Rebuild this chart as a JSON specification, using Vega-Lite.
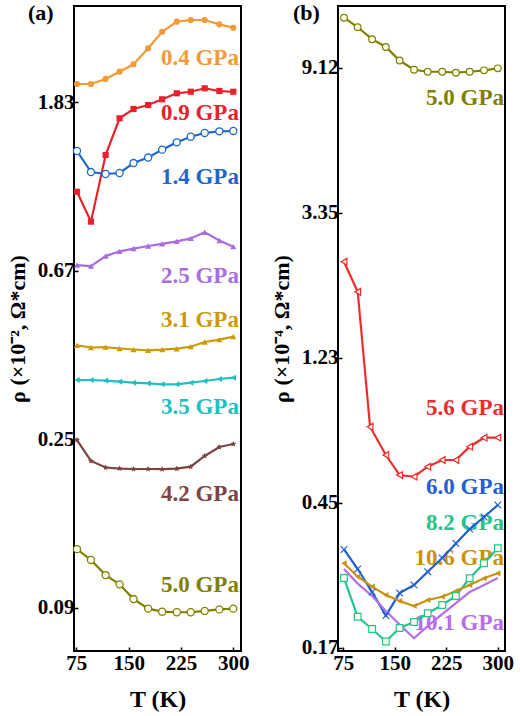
{
  "$schema": "https://vega.github.io/schema/vega-lite/v6.json",
  "background": "white",
  "padding": {"left": 5, "top": 1, "right": 0, "bottom": 0},
  "bounds": "flush",
  "spacing": 97,
  "resolve": {"scale": {"x": "independent", "y": "independent", "color": "independent", "shape": "independent"}},
  "config": {
    "font": "Liberation Serif",
    "view": {"stroke": "black", "strokeWidth": 2},
    "axis": {
      "grid": false,
      "domain": false,
      "labelFont": "Liberation Serif",
      "labelFontWeight": "bold",
      "labelFontSize": 21,
      "labelColor": "black",
      "titleFont": "Liberation Serif",
      "titleFontWeight": "bold",
      "titleColor": "black",
      "tickColor": "black",
      "tickWidth": 1.5,
      "tickSize": -4
    },
    "title": {"font": "Liberation Serif", "fontWeight": "bold", "fontSize": 22, "color": "black"}
  },
  "datasets": {
    "a": [
      {"series": "0.4 GPa", "T": 76, "rho": 2.030}, {"series": "0.4 GPa", "T": 96, "rho": 2.030}, {"series": "0.4 GPa", "T": 117, "rho": 2.092}, {"series": "0.4 GPa", "T": 137, "rho": 2.184}, {"series": "0.4 GPa", "T": 157, "rho": 2.282}, {"series": "0.4 GPa", "T": 178, "rho": 2.509}, {"series": "0.4 GPa", "T": 198, "rho": 2.768}, {"series": "0.4 GPa", "T": 219, "rho": 2.939}, {"series": "0.4 GPa", "T": 239, "rho": 2.968}, {"series": "0.4 GPa", "T": 259, "rho": 2.968}, {"series": "0.4 GPa", "T": 280, "rho": 2.892}, {"series": "0.4 GPa", "T": 300, "rho": 2.835},
      {"series": "0.9 GPa", "T": 76, "rho": 1.071}, {"series": "0.9 GPa", "T": 96, "rho": 0.897}, {"series": "0.9 GPa", "T": 117, "rho": 1.332}, {"series": "0.9 GPa", "T": 137, "rho": 1.656}, {"series": "0.9 GPa", "T": 157, "rho": 1.750}, {"series": "0.9 GPa", "T": 178, "rho": 1.792}, {"series": "0.9 GPa", "T": 198, "rho": 1.854}, {"series": "0.9 GPa", "T": 219, "rho": 1.921}, {"series": "0.9 GPa", "T": 239, "rho": 1.939}, {"series": "0.9 GPa", "T": 259, "rho": 1.979}, {"series": "0.9 GPa", "T": 280, "rho": 1.947}, {"series": "0.9 GPa", "T": 300, "rho": 1.939},
      {"series": "1.4 GPa", "T": 76, "rho": 1.364}, {"series": "1.4 GPa", "T": 96, "rho": 1.204}, {"series": "1.4 GPa", "T": 117, "rho": 1.190}, {"series": "1.4 GPa", "T": 137, "rho": 1.197}, {"series": "1.4 GPa", "T": 157, "rho": 1.270}, {"series": "1.4 GPa", "T": 178, "rho": 1.312}, {"series": "1.4 GPa", "T": 198, "rho": 1.375}, {"series": "1.4 GPa", "T": 219, "rho": 1.436}, {"series": "1.4 GPa", "T": 239, "rho": 1.485}, {"series": "1.4 GPa", "T": 259, "rho": 1.518}, {"series": "1.4 GPa", "T": 280, "rho": 1.533}, {"series": "1.4 GPa", "T": 300, "rho": 1.536},
      {"series": "2.5 GPa", "T": 76, "rho": 0.693}, {"series": "2.5 GPa", "T": 96, "rho": 0.689}, {"series": "2.5 GPa", "T": 117, "rho": 0.731}, {"series": "2.5 GPa", "T": 137, "rho": 0.752}, {"series": "2.5 GPa", "T": 157, "rho": 0.764}, {"series": "2.5 GPa", "T": 178, "rho": 0.776}, {"series": "2.5 GPa", "T": 198, "rho": 0.786}, {"series": "2.5 GPa", "T": 219, "rho": 0.798}, {"series": "2.5 GPa", "T": 239, "rho": 0.812}, {"series": "2.5 GPa", "T": 259, "rho": 0.842}, {"series": "2.5 GPa", "T": 280, "rho": 0.802}, {"series": "2.5 GPa", "T": 300, "rho": 0.773},
      {"series": "3.1 GPa", "T": 76, "rho": 0.4305}, {"series": "3.1 GPa", "T": 96, "rho": 0.4249}, {"series": "3.1 GPa", "T": 117, "rho": 0.4257}, {"series": "3.1 GPa", "T": 137, "rho": 0.4224}, {"series": "3.1 GPa", "T": 157, "rho": 0.4199}, {"series": "3.1 GPa", "T": 178, "rho": 0.4180}, {"series": "3.1 GPa", "T": 198, "rho": 0.4195}, {"series": "3.1 GPa", "T": 219, "rho": 0.4219}, {"series": "3.1 GPa", "T": 239, "rho": 0.4270}, {"series": "3.1 GPa", "T": 259, "rho": 0.4391}, {"series": "3.1 GPa", "T": 280, "rho": 0.4451}, {"series": "3.1 GPa", "T": 300, "rho": 0.4531},
      {"series": "3.5 GPa", "T": 76, "rho": 0.3504}, {"series": "3.5 GPa", "T": 96, "rho": 0.3504}, {"series": "3.5 GPa", "T": 117, "rho": 0.3490}, {"series": "3.5 GPa", "T": 137, "rho": 0.3469}, {"series": "3.5 GPa", "T": 157, "rho": 0.3448}, {"series": "3.5 GPa", "T": 178, "rho": 0.3436}, {"series": "3.5 GPa", "T": 198, "rho": 0.3416}, {"series": "3.5 GPa", "T": 219, "rho": 0.3416}, {"series": "3.5 GPa", "T": 239, "rho": 0.3448}, {"series": "3.5 GPa", "T": 259, "rho": 0.3483}, {"series": "3.5 GPa", "T": 280, "rho": 0.3525}, {"series": "3.5 GPa", "T": 300, "rho": 0.3552},
      {"series": "4.2 GPa", "T": 76, "rho": 0.2454}, {"series": "4.2 GPa", "T": 96, "rho": 0.2167}, {"series": "4.2 GPa", "T": 117, "rho": 0.2085}, {"series": "4.2 GPa", "T": 137, "rho": 0.2072}, {"series": "4.2 GPa", "T": 157, "rho": 0.2066}, {"series": "4.2 GPa", "T": 178, "rho": 0.2066}, {"series": "4.2 GPa", "T": 198, "rho": 0.2064}, {"series": "4.2 GPa", "T": 219, "rho": 0.2070}, {"series": "4.2 GPa", "T": 239, "rho": 0.2095}, {"series": "4.2 GPa", "T": 259, "rho": 0.2232}, {"series": "4.2 GPa", "T": 280, "rho": 0.2354}, {"series": "4.2 GPa", "T": 300, "rho": 0.2397},
      {"series": "5.0 GPa", "T": 76, "rho": 0.1284}, {"series": "5.0 GPa", "T": 96, "rho": 0.1204}, {"series": "5.0 GPa", "T": 117, "rho": 0.1101}, {"series": "5.0 GPa", "T": 137, "rho": 0.1042}, {"series": "5.0 GPa", "T": 157, "rho": 0.0955}, {"series": "5.0 GPa", "T": 178, "rho": 0.0902}, {"series": "5.0 GPa", "T": 198, "rho": 0.0886}, {"series": "5.0 GPa", "T": 219, "rho": 0.0883}, {"series": "5.0 GPa", "T": 239, "rho": 0.0883}, {"series": "5.0 GPa", "T": 259, "rho": 0.0890}, {"series": "5.0 GPa", "T": 280, "rho": 0.0898}, {"series": "5.0 GPa", "T": 300, "rho": 0.0902}
    ],
    "b": [
      {"series": "5.0 GPa", "T": 76, "rho": 12.86}, {"series": "5.0 GPa", "T": 96, "rho": 12.04}, {"series": "5.0 GPa", "T": 117, "rho": 11.09}, {"series": "5.0 GPa", "T": 137, "rho": 10.51}, {"series": "5.0 GPa", "T": 157, "rho": 9.571}, {"series": "5.0 GPa", "T": 178, "rho": 8.983}, {"series": "5.0 GPa", "T": 198, "rho": 8.860}, {"series": "5.0 GPa", "T": 219, "rho": 8.860}, {"series": "5.0 GPa", "T": 239, "rho": 8.800}, {"series": "5.0 GPa", "T": 259, "rho": 8.860}, {"series": "5.0 GPa", "T": 280, "rho": 8.946}, {"series": "5.0 GPa", "T": 300, "rho": 9.070},
      {"series": "5.6 GPa", "T": 76, "rho": 2.391}, {"series": "5.6 GPa", "T": 96, "rho": 1.944}, {"series": "5.6 GPa", "T": 114, "rho": 0.7665}, {"series": "5.6 GPa", "T": 137, "rho": 0.6307}, {"series": "5.6 GPa", "T": 157, "rho": 0.5494}, {"series": "5.6 GPa", "T": 178, "rho": 0.5430}, {"series": "5.6 GPa", "T": 198, "rho": 0.5818}, {"series": "5.6 GPa", "T": 219, "rho": 0.6093}, {"series": "5.6 GPa", "T": 239, "rho": 0.6093}, {"series": "5.6 GPa", "T": 259, "rho": 0.6678}, {"series": "5.6 GPa", "T": 280, "rho": 0.7106}, {"series": "5.6 GPa", "T": 300, "rho": 0.7106},
      {"series": "6.0 GPa", "T": 76, "rho": 0.3288}, {"series": "6.0 GPa", "T": 96, "rho": 0.2874}, {"series": "6.0 GPa", "T": 117, "rho": 0.2452}, {"series": "6.0 GPa", "T": 137, "rho": 0.2086}, {"series": "6.0 GPa", "T": 157, "rho": 0.2435}, {"series": "6.0 GPa", "T": 178, "rho": 0.2574}, {"series": "6.0 GPa", "T": 198, "rho": 0.2821}, {"series": "6.0 GPa", "T": 219, "rho": 0.3100}, {"series": "6.0 GPa", "T": 239, "rho": 0.3426}, {"series": "6.0 GPa", "T": 259, "rho": 0.3786}, {"series": "6.0 GPa", "T": 280, "rho": 0.4113}, {"series": "6.0 GPa", "T": 300, "rho": 0.4468},
      {"series": "8.2 GPa", "T": 76, "rho": 0.2701}, {"series": "8.2 GPa", "T": 96, "rho": 0.2068}, {"series": "8.2 GPa", "T": 117, "rho": 0.1900}, {"series": "8.2 GPa", "T": 137, "rho": 0.1743}, {"series": "8.2 GPa", "T": 157, "rho": 0.1913}, {"series": "8.2 GPa", "T": 178, "rho": 0.1994}, {"series": "8.2 GPa", "T": 198, "rho": 0.2118}, {"series": "8.2 GPa", "T": 219, "rho": 0.2242}, {"series": "8.2 GPa", "T": 239, "rho": 0.2386}, {"series": "8.2 GPa", "T": 259, "rho": 0.2696}, {"series": "8.2 GPa", "T": 280, "rho": 0.2989}, {"series": "8.2 GPa", "T": 300, "rho": 0.3315},
      {"series": "10.6 GPa", "T": 76, "rho": 0.2989}, {"series": "10.6 GPa", "T": 96, "rho": 0.2725}, {"series": "10.6 GPa", "T": 117, "rho": 0.2544}, {"series": "10.6 GPa", "T": 137, "rho": 0.2402}, {"series": "10.6 GPa", "T": 157, "rho": 0.2305}, {"series": "10.6 GPa", "T": 178, "rho": 0.2227}, {"series": "10.6 GPa", "T": 198, "rho": 0.2321}, {"series": "10.6 GPa", "T": 219, "rho": 0.2374}, {"series": "10.6 GPa", "T": 239, "rho": 0.2469}, {"series": "10.6 GPa", "T": 259, "rho": 0.2574}, {"series": "10.6 GPa", "T": 280, "rho": 0.2696}, {"series": "10.6 GPa", "T": 300, "rho": 0.2790},
      {"series": "10.1 GPa", "T": 76, "rho": 0.2874}, {"series": "10.1 GPa", "T": 96, "rho": 0.2599}, {"series": "10.1 GPa", "T": 117, "rho": 0.2386}, {"series": "10.1 GPa", "T": 137, "rho": 0.2151}, {"series": "10.1 GPa", "T": 157, "rho": 0.1960}, {"series": "10.1 GPa", "T": 178, "rho": 0.1782}, {"series": "10.1 GPa", "T": 198, "rho": 0.1940}, {"series": "10.1 GPa", "T": 219, "rho": 0.2107}, {"series": "10.1 GPa", "T": 239, "rho": 0.2273}, {"series": "10.1 GPa", "T": 259, "rho": 0.2452}, {"series": "10.1 GPa", "T": 280, "rho": 0.2574}, {"series": "10.1 GPa", "T": 300, "rho": 0.2701}
    ],
    "labA": [
      {"series": "0.4 GPa", "T": 308, "rho": 2.364},
      {"series": "0.9 GPa", "T": 308, "rho": 1.712},
      {"series": "1.4 GPa", "T": 308, "rho": 1.169},
      {"series": "2.5 GPa", "T": 308, "rho": 0.6507},
      {"series": "3.1 GPa", "T": 308, "rho": 0.5003},
      {"series": "3.5 GPa", "T": 308, "rho": 0.2991},
      {"series": "4.2 GPa", "T": 308, "rho": 0.1778},
      {"series": "5.0 GPa", "T": 308, "rho": 0.1038}
    ],
    "labB": [
      {"series": "5.0 GPa", "T": 309, "rho": 7.376},
      {"series": "5.6 GPa", "T": 309, "rho": 0.8702},
      {"series": "6.0 GPa", "T": 309, "rho": 0.5069},
      {"series": "8.2 GPa", "T": 309, "rho": 0.3938},
      {"series": "10.6 GPa", "T": 309, "rho": 0.3094},
      {"series": "10.1 GPa", "T": 309, "rho": 0.1976}
    ]
  },
  "hconcat": [
    {
      "width": 167,
      "height": 645,
      "title": {"text": "(a)", "anchor": "start", "frame": "group", "dx": -46, "offset": -19},
      "data": {"name": "a"},
      "encoding": {
        "x": {"field": "T", "type": "quantitative", "scale": {"domain": [71.7, 311], "nice": false, "zero": false},
              "axis": {"values": [75, 150, 225, 300], "title": "T (K)", "titleFontSize": 24, "labelPadding": 5, "titlePadding": 14, "labelFlush": false}},
        "y": {"field": "rho", "type": "quantitative", "scale": {"type": "log", "base": 2.718281828, "domain": [0.07016, 3.225], "nice": false},
              "axis": {"values": [0.090718, 0.24660, 0.67032, 1.82212], "labelExpr": "datum.value > 1 ? '1.83' : format(datum.value, '.2f')",
                       "title": "ρ (×10⁻², Ω*cm)", "titleFontSize": 22, "labelPadding": 4, "titlePadding": 8}},
        "color": {"field": "series", "type": "nominal", "legend": null,
                  "scale": {"domain": ["0.4 GPa", "0.9 GPa", "1.4 GPa", "2.5 GPa", "3.1 GPa", "3.5 GPa", "4.2 GPa", "5.0 GPa"],
                            "range": ["#F29A38", "#E8222B", "#1E66CC", "#A66EE0", "#CC9A06", "#22BFC2", "#7D4444", "#7F7F00"]}}
      },
      "layer": [
        {"data": {"name": "labA"}, "mark": {"type": "text", "align": "right", "baseline": "middle", "font": "Liberation Serif", "fontWeight": "bold", "fontSize": 23},
         "encoding": {"text": {"field": "series"}}},
        {"mark": {"type": "line", "strokeWidth": 2.2}},
        {"transform": [{"filter": {"field": "series", "oneOf": ["0.4 GPa", "0.9 GPa", "2.5 GPa", "3.1 GPa", "3.5 GPa", "4.2 GPa"]}}],
         "mark": {"type": "point", "filled": true, "opacity": 1, "size": 38},
         "encoding": {"shape": {"field": "series", "type": "nominal", "legend": null,
           "scale": {"domain": ["0.4 GPa", "0.9 GPa", "2.5 GPa", "3.1 GPa", "3.5 GPa", "4.2 GPa"],
                     "range": ["circle", "square", "triangle-up", "triangle-up", "triangle-left", "M0,-1L0.29,-0.4L0.95,-0.31L0.47,0.15L0.59,0.81L0,0.5L-0.59,0.81L-0.47,0.15L-0.95,-0.31L-0.29,-0.4Z"]}}}},
        {"transform": [{"filter": {"field": "series", "oneOf": ["1.4 GPa", "5.0 GPa"]}}],
         "mark": {"type": "point", "shape": "circle", "filled": false, "fill": "#FFFFF0", "opacity": 1, "size": 50, "strokeWidth": 1.3}}
      ]
    },
    {
      "width": 167,
      "height": 645,
      "title": {"text": "(b)", "anchor": "start", "frame": "group", "dx": -45, "offset": -19},
      "data": {"name": "b"},
      "encoding": {
        "x": {"field": "T", "type": "quantitative", "scale": {"domain": [67.3, 310.5], "nice": false, "zero": false},
              "axis": {"values": [75, 150, 225, 300], "title": "T (K)", "titleFontSize": 24, "labelPadding": 5, "titlePadding": 14, "labelFlush": false}},
        "y": {"field": "rho", "type": "quantitative", "scale": {"type": "log", "base": 2.718281828, "domain": [0.1633, 13.94], "nice": false},
              "axis": {"values": [0.16704, 0.45407, 1.23429, 3.35513, 9.12], "labelExpr": "datum.value > 3 && datum.value < 4 ? '3.35' : format(datum.value, '.2f')",
                       "title": "ρ (×10⁻⁴, Ω*cm)", "titleFontSize": 22, "labelPadding": 4, "titlePadding": 8}},
        "color": {"field": "series", "type": "nominal", "legend": null,
                  "scale": {"domain": ["5.0 GPa", "5.6 GPa", "6.0 GPa", "8.2 GPa", "10.6 GPa", "10.1 GPa"],
                            "range": ["#7F7F00", "#EE2C2C", "#1F5FD0", "#25C48A", "#C8920C", "#B46EEA"]}}
      },
      "layer": [
        {"data": {"name": "labB"}, "mark": {"type": "text", "align": "right", "baseline": "middle", "font": "Liberation Serif", "fontWeight": "bold", "fontSize": 23},
         "encoding": {"text": {"field": "series"}}},
        {"mark": {"type": "line", "strokeWidth": 2.2}},
        {"transform": [{"filter": {"field": "series", "oneOf": ["10.6 GPa"]}}],
         "mark": {"type": "point", "filled": true, "opacity": 1, "size": 38, "shape": "triangle-left"}},
        {"transform": [{"filter": {"field": "series", "oneOf": ["5.0 GPa", "5.6 GPa", "6.0 GPa", "8.2 GPa"]}}],
         "mark": {"type": "point", "filled": false, "fill": "#FFFFF0", "opacity": 1, "size": 45, "strokeWidth": 1.2},
         "encoding": {"shape": {"field": "series", "type": "nominal", "legend": null,
           "scale": {"domain": ["5.0 GPa", "5.6 GPa", "6.0 GPa", "8.2 GPa"],
                     "range": ["circle", "triangle-left", "M-1,-1L1,1M-1,1L1,-1", "square"]}}}}
      ]
    }
  ]
}
